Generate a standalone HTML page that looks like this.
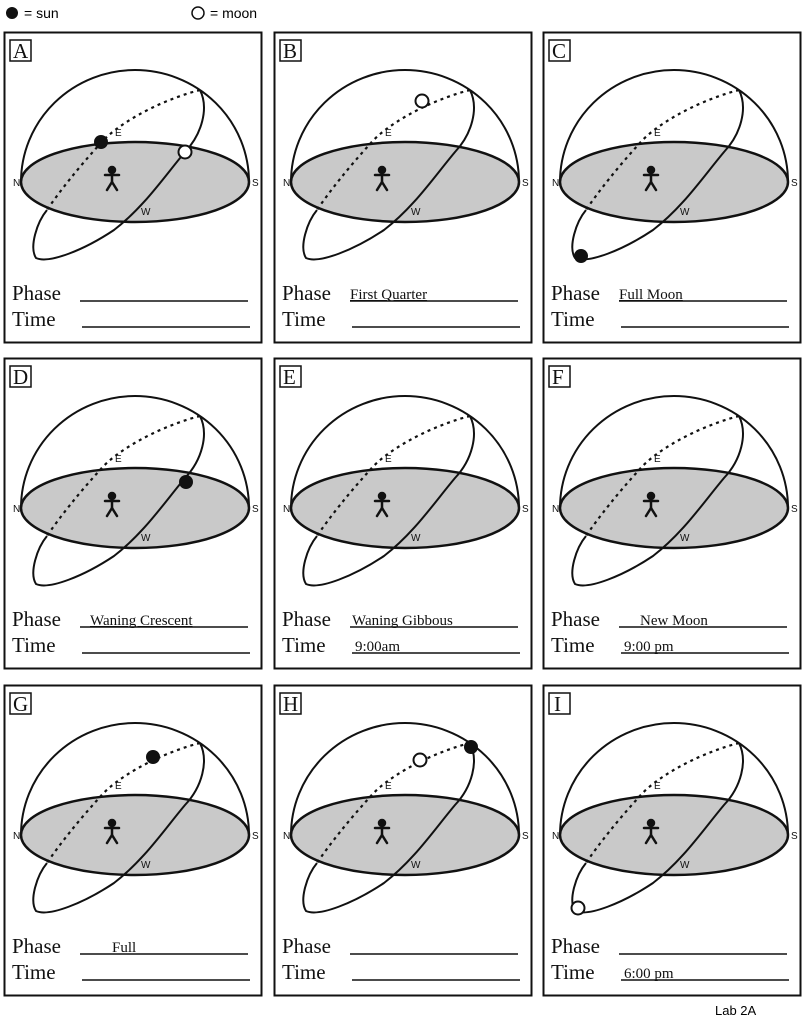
<!DOCTYPE html>
<html><head><meta charset="utf-8"><style>
html,body{margin:0;padding:0;background:#fff;}
svg{display:block;}
.lab{font-family:"Liberation Serif",serif;font-size:21px;fill:#111;}
.fill{font-family:"Liberation Serif",serif;font-size:15px;fill:#111;}
.dir{font-family:"Liberation Sans",sans-serif;font-size:10px;fill:#111;}
</style></head><body>
<svg width="812" height="1024" viewBox="0 0 812 1024" xmlns="http://www.w3.org/2000/svg">
<defs>
<g id="panel">
  <rect x="0.5" y="0.5" width="257" height="310" fill="#fff" stroke="#111" stroke-width="2"/>
  <ellipse cx="131" cy="150" rx="114" ry="40" fill="#c9c9c9" stroke="#111" stroke-width="2.5"/>
  <path d="M17,150 A114,112 0 0 1 245,150" fill="none" stroke="#111" stroke-width="2"/>
  <path d="M196,58 C150,70 110,95 96,112 C75,135 55,160 43,178" fill="none" stroke="#111" stroke-width="2.2" stroke-dasharray="3,4"/>
  <path d="M196,58 C205,76 198,102 181,120 C160,145 140,175 110,198 C80,218 45,232 32,226 C25,215 33,190 43,178" fill="none" stroke="#111" stroke-width="2"/>
  <text class="dir" x="9" y="154">N</text>
  <text class="dir" x="248" y="154">S</text>
  <text class="dir" x="111" y="104">E</text>
  <text class="dir" x="137" y="183">W</text>
  <g stroke="#111" stroke-width="2.5" fill="none" stroke-linecap="round">
    <circle cx="108" cy="138" r="3" fill="#111"/>
    <line x1="108" y1="140" x2="108" y2="150"/>
    <line x1="101" y1="143" x2="115" y2="143"/>
    <path d="M103,158 L108,150 L113,158"/>
  </g>
  <text class="lab" x="8" y="268">Phase</text>
  <text class="lab" x="8" y="294">Time</text>
  <line x1="76" y1="269" x2="244" y2="269" stroke="#111" stroke-width="1.5"/>
  <line x1="78" y1="295" x2="246" y2="295" stroke="#111" stroke-width="1.5"/>
</g>
</defs>
<circle cx="12" cy="13" r="6" fill="#111"/>
<text x="24" y="18" font-family="Liberation Sans,sans-serif" font-size="14">= sun</text>
<circle cx="198" cy="13" r="6" fill="#fff" stroke="#111" stroke-width="1.5"/>
<text x="210" y="18" font-family="Liberation Sans,sans-serif" font-size="14">= moon</text>

<g transform="translate(4,32)"><use href="#panel"/>
 <rect x="6" y="8" width="21" height="21" fill="none" stroke="#111" stroke-width="1.5"/><text class="lab" x="9" y="26" font-size="18">A</text>
 <circle cx="97" cy="110" r="7" fill="#111"/><circle cx="181" cy="120" r="6.5" fill="#fff" stroke="#111" stroke-width="2"/></g>
<g transform="translate(274,32)"><use href="#panel"/>
 <rect x="6" y="8" width="21" height="21" fill="none" stroke="#111" stroke-width="1.5"/><text class="lab" x="9" y="26" font-size="18">B</text>
 <circle cx="148" cy="69" r="6.5" fill="#fff" stroke="#111" stroke-width="2"/>
 <text class="fill" x="76" y="267" text-decoration="underline">First Quarter</text></g>
<g transform="translate(543,32)"><use href="#panel"/>
 <rect x="6" y="8" width="21" height="21" fill="none" stroke="#111" stroke-width="1.5"/><text class="lab" x="9" y="26" font-size="18">C</text>
 <circle cx="38" cy="224" r="7" fill="#111"/>
 <text class="fill" x="76" y="267" text-decoration="underline">Full  Moon</text></g>

<g transform="translate(4,358)"><use href="#panel"/>
 <rect x="6" y="8" width="21" height="21" fill="none" stroke="#111" stroke-width="1.5"/><text class="lab" x="9" y="26" font-size="18">D</text>
 <circle cx="182" cy="124" r="7" fill="#111"/>
 <text class="fill" x="86" y="267" text-decoration="underline">Waning Crescent</text></g>
<g transform="translate(274,358)"><use href="#panel"/>
 <rect x="6" y="8" width="21" height="21" fill="none" stroke="#111" stroke-width="1.5"/><text class="lab" x="9" y="26" font-size="18">E</text>
 <text class="fill" x="78" y="267">Waning Gibbous</text>
 <text class="fill" x="81" y="293">9:00am</text></g>
<g transform="translate(543,358)"><use href="#panel"/>
 <rect x="6" y="8" width="21" height="21" fill="none" stroke="#111" stroke-width="1.5"/><text class="lab" x="9" y="26" font-size="18">F</text>
 <text class="fill" x="97" y="267">New Moon</text>
 <text class="fill" x="81" y="293">9:00 pm</text></g>

<g transform="translate(4,685)"><use href="#panel"/>
 <rect x="6" y="8" width="21" height="21" fill="none" stroke="#111" stroke-width="1.5"/><text class="lab" x="9" y="26" font-size="18">G</text>
 <circle cx="149" cy="72" r="7" fill="#111"/>
 <text class="fill" x="108" y="267">Full</text></g>
<g transform="translate(274,685)"><use href="#panel"/>
 <rect x="6" y="8" width="21" height="21" fill="none" stroke="#111" stroke-width="1.5"/><text class="lab" x="9" y="26" font-size="18">H</text>
 <circle cx="146" cy="75" r="6.5" fill="#fff" stroke="#111" stroke-width="2"/>
 <circle cx="197" cy="62" r="7" fill="#111"/></g>
<g transform="translate(543,685)"><use href="#panel"/>
 <rect x="6" y="8" width="21" height="21" fill="none" stroke="#111" stroke-width="1.5"/><text class="lab" x="11" y="26" font-size="18">I</text>
 <circle cx="35" cy="223" r="6.5" fill="#fff" stroke="#111" stroke-width="2"/>
 <text class="fill" x="81" y="293">6:00 pm</text></g>

<text x="715" y="1015" font-family="Liberation Sans,sans-serif" font-size="13">Lab 2A</text>
</svg>
</body></html>
